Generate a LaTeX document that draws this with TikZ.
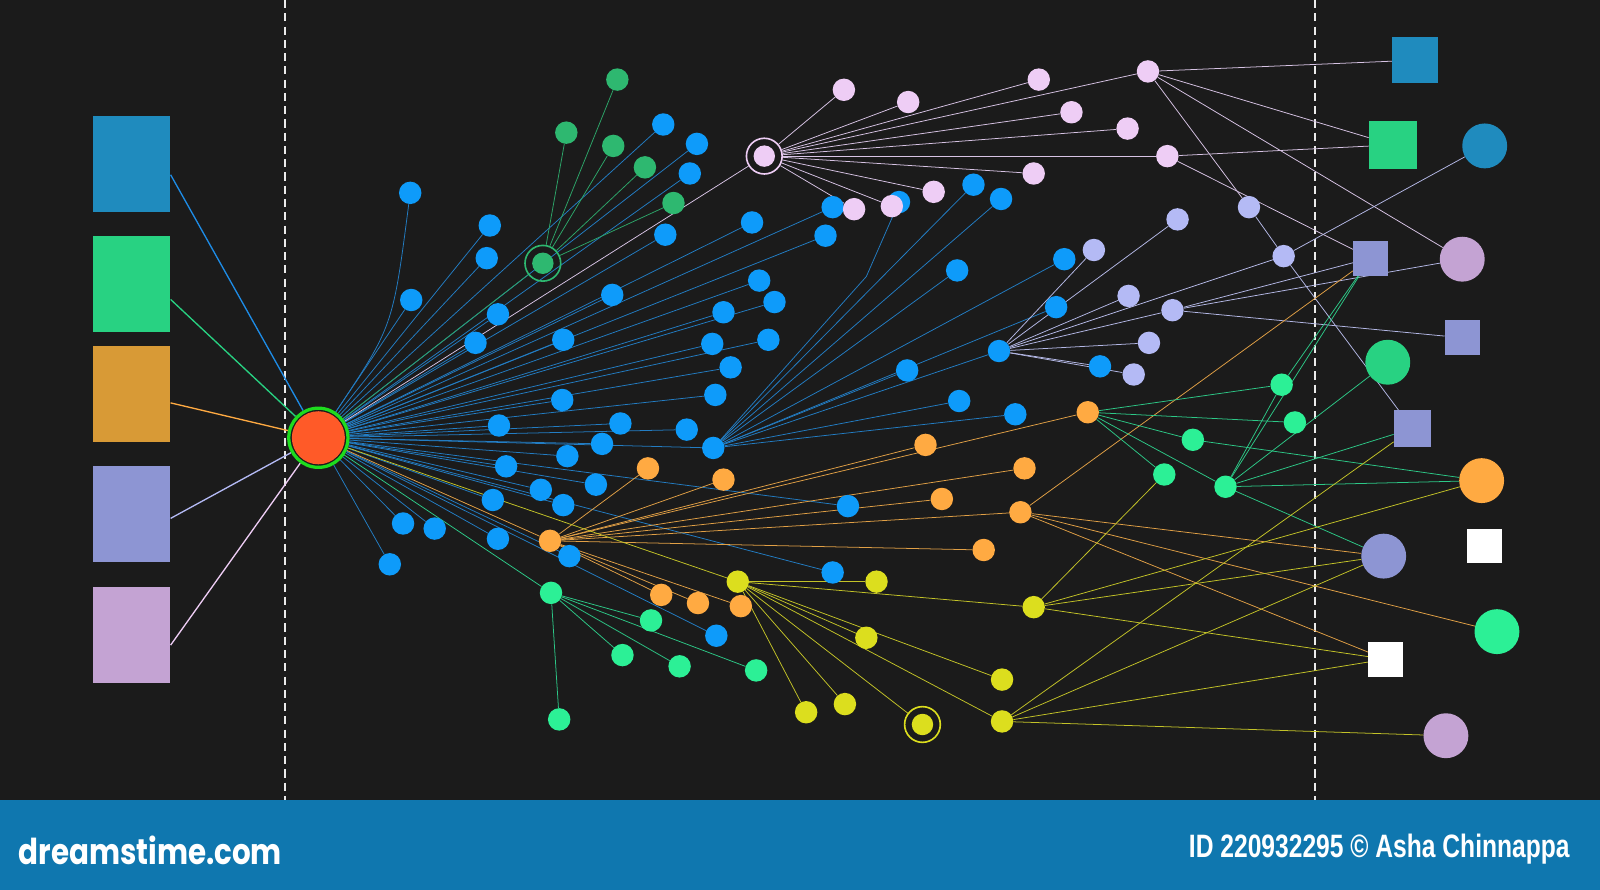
\documentclass[tikz,border=0pt]{standalone}
\usepackage{graphicx}
\usepackage{fontspec}
\newfontfamily\logofont{Poppins}
\newfontfamily\idfont{Liberation Sans}
\definecolor{night}{RGB}{27,27,27}
\definecolor{barblue}{RGB}{15,119,175}
\definecolor{nblue}{RGB}{14,155,250}
\definecolor{eblue}{RGB}{35,125,195}
\definecolor{lblue}{RGB}{30,140,230}
\definecolor{npink}{RGB}{238,205,245}
\definecolor{epink}{RGB}{215,195,228}
\definecolor{nlav}{RGB}{180,186,245}
\definecolor{elav}{RGB}{180,184,230}
\definecolor{ngreen}{RGB}{46,184,112}
\definecolor{egreen}{RGB}{45,165,105}
\definecolor{nmint}{RGB}{44,240,150}
\definecolor{emint}{RGB}{45,200,135}
\definecolor{norange}{RGB}{255,170,66}
\definecolor{eorange}{RGB}{225,160,70}
\definecolor{nyellow}{RGB}{220,222,30}
\definecolor{eyellow}{RGB}{195,195,40}
\definecolor{hubred}{RGB}{255,90,40}
\definecolor{hubring}{RGB}{30,220,30}
\definecolor{sqblue}{RGB}{31,139,190}
\definecolor{sqgreen}{RGB}{40,210,130}
\definecolor{sqorange}{RGB}{216,154,54}
\definecolor{sqpurple}{RGB}{141,149,211}
\definecolor{sqlilac}{RGB}{196,163,211}
\pgfdeclarelayer{back}
\pgfdeclarelayer{edges}
\pgfsetlayers{back,edges,main}

\begin{document}
\begin{tikzpicture}[x=1pt,y=-1pt,
    dot/.style={circle,fill=#1,minimum size=22pt,inner sep=0pt},
    ringdot/.style={circle,draw=#1,line width=1.6pt,minimum size=35pt,inner sep=0pt,
        path picture={\fill[#1] (path picture bounding box.center) circle (10.5pt);}},
    hubdot/.style={circle,draw=hubring,line width=3.2pt,minimum size=58pt,inner sep=0pt,
        path picture={\fill[hubred] (path picture bounding box.center) circle (26pt);}},
    panel/.style={fill=#1,minimum width=76pt,minimum height=94pt,inner sep=0pt},
    blob/.style={circle,fill=#1,minimum size=44pt,inner sep=0pt},
    tile/.style={fill=#1,minimum size=34pt,inner sep=0pt},
    link/.style={draw=#1,line width=0.75pt},
    feed/.style={draw=#1,line width=1.3pt},
    divider/.style={draw=white!92!black,line width=2pt,dash pattern=on 8pt off 5pt}]
    \useasboundingbox (0,0) rectangle (1568,872);
    \begin{pgfonlayer}{back}
        \fill[night] (0,0) rectangle (1568,784);
        \fill[barblue] (0,784) rectangle (1568,872);
        \draw[divider] (279,0) -- (279,784);
        \draw[divider] (1289,0) -- (1289,784);
    \end{pgfonlayer}

    \node[hubdot] (hub) at (312,429) {};
    \foreach \n/\y/\c in {sqA/161/sqblue,sqB/278/sqgreen,sqC/386/sqorange,sqD/504/sqpurple,sqE/622/sqlilac}
    {
        \node[panel=\c] (\n) at (129,\y) {};
    }
    \foreach \n/\x/\y in {b1/402/189,b2/480/221,b3/477/253,b4/403/294,b5/488/308,b6/466/336,
        b7/552/333,b8/600/289,b9/652/230,b10/737/218,b11/650/122,b12/683/141,b13/676/170,
        b14/744/275,b15/759/296,b16/709/306,b17/753/333,b18/698/337,b19/716/360,b20/701/387,
        b21/551/392,b22/489/417,b23/608/415,b24/673/421,b25/699/439,b26/590/435,b27/556/447,
        b28/496/457,b29/584/475,b30/530/480,b31/483/490,b32/552/495,b33/426/518,b34/395/513,
        b35/488/528,b36/558/545,b37/382/553,b38/702/623,b39/831/496,b40/816/561,b41/816/203,
        b42/809/231,b43/881/198,b44/954/181,b45/981/195,b46/938/265,b47/1043/254,b48/1035/301,
        b49/979/344,b50/889/363,b51/1078/359,b52/940/393,b53/995/406}
    {
        \node[dot=nblue] (\n) at (\x,\y) {};
    }
    \node[ringdot=npink] (p0) at (749,153) {};
    \foreach \n/\x/\y in {p1/827/88,p2/890/100,p3/1018/78,p4/1050/110,p5/1125/70,p6/1105/126,
        p7/1144/153,p8/1013/170,p9/915/188,p10/837/205,p11/874/202}
    {
        \node[dot=npink] (\n) at (\x,\y) {};
    }
    \foreach \n/\x/\y in {l1/1154/215,l2/1072/245,l3/1106/290,l4/1149/304,l5/1126/336,
        l6/1111/367,l7/1224/203,l8/1258/251}
    {
        \node[dot=nlav] (\n) at (\x,\y) {};
    }
    \node[ringdot=ngreen] (g0) at (532,258) {};
    \foreach \n/\x/\y in {g1/605/78,g2/555/130,g3/601/143,g4/632/164,g5/660/199}
    {
        \node[dot=ngreen] (\n) at (\x,\y) {};
    }
    \foreach \n/\x/\y in {o1/635/459,o2/709/470,o3/539/530,o4/648/583,o5/684/591,o6/726/594,
        o7/907/436,o8/1004/459,o9/923/489,o10/1000/502,o11/964/539,o12/1066/404}
    {
        \node[dot=norange] (\n) at (\x,\y) {};
    }
    \node[ringdot=nyellow] (y0) at (904,710) {};
    \foreach \n/\x/\y in {y1/723/570,y2/859/570,y3/1013/595,y4/849/625,y5/982/666,
        y6/982/707,y7/828/690,y8/790/698}
    {
        \node[dot=nyellow] (\n) at (\x,\y) {};
    }
    \foreach \n/\x/\y in {m1/540/581,m2/638/608,m3/610/642,m4/666/653,m5/741/657,m6/548/705,
        m7/1256/377,m8/1269/414,m9/1169/431,m10/1141/465,m11/1201/477}
    {
        \node[dot=nmint] (\n) at (\x,\y) {};
    }

    \node[tile=sqblue,minimum size=45pt] (rA) at (1387,59) {};
    \node[tile=sqgreen,minimum size=47pt] (rB) at (1365,142) {};
    \node[blob=sqblue] (rC) at (1455,143) {};
    \node[tile=sqpurple] (rD) at (1343,253) {};
    \node[blob=sqlilac] (rE) at (1433,254) {};
    \node[tile=sqpurple] (rF) at (1433,331) {};
    \node[blob=sqgreen] (rG) at (1360,355) {};
    \node[tile=sqpurple,minimum size=36pt] (rH) at (1384,420) {};
    \node[blob=norange] (rI) at (1452,471) {};
    \node[tile=white] (rJ) at (1455,535) {};
    \node[blob=sqpurple] (rK) at (1356,545) {};
    \node[blob=nmint] (rL) at (1467,619) {};
    \node[tile=white] (rM) at (1358,646) {};
    \node[blob=sqlilac] (rN) at (1417,721) {};

    \node[anchor=base west,inner sep=0pt,text=white] (logo) at (18,847)
        {\resizebox{258pt}{28pt}{\logofont\bfseries dreamstime.com}};
    \node[anchor=base west,inner sep=0pt,text=white] (credit) at (1165,840)
        {\resizebox{373pt}{23pt}{\idfont\bfseries ID 220932295 \textcopyright{} Asha Chinnappa}};

    \begin{pgfonlayer}{edges}
        \foreach \n/\a/\c in {sqA/-15/lblue,sqB/-22/sqgreen,sqC/-13/norange,sqD/-6/nlav,sqE/-15/npink}
        {
            \draw[feed=\c] (\n.\a) -- (hub);
        }
        \draw[link=eblue] (hub) .. controls (385,320) .. (b1);
        \foreach \i in {2,...,42}
        {
            \draw[link=eblue] (hub) -- (b\i);
        }
        \coordinate (k43) at (849,271);
        \draw[link=eblue] (b25) -- (k43) -- (b43);
        \foreach \t in {b44,b45,b46,b47,b48,b49,b50,b52,b53}
        {
            \draw[link=eblue] (b25) -- (\t);
        }
        \draw[link=epink] (hub) -- (p0);
        \foreach \i in {1,...,11}
        {
            \draw[link=epink] (p0) -- (p\i);
        }
        \foreach \t in {rA,rB,rE,l7}
        {
            \draw[link=epink] (p5) -- (\t);
        }
        \draw[link=epink] (p7) -- (rB);
        \draw[link=epink] (p7) -- (rD);
        \foreach \t in {l1,l2,l3,l4,l5,l6,l8,b51}
        {
            \draw[link=elav] (b49) -- (\t);
        }
        \foreach \t in {rD,rE,rF}
        {
            \draw[link=elav] (l4) -- (\t);
        }
        \draw[link=elav] (l7) -- (l8);
        \draw[link=elav] (l8) -- (rC);
        \draw[link=elav] (l8) -- (rH);
        \draw[link=egreen] (hub) -- (g0);
        \foreach \i in {1,...,5}
        {
            \draw[link=egreen] (g0) -- (g\i);
        }
        \draw[link=eorange] (hub) -- (o3);
        \foreach \t in {o1,o2,o4,o5,o6,o7,o8,o9,o10,o11,o12}
        {
            \draw[link=eorange] (o3) -- (\t);
        }
        \foreach \t in {rD,rK,rL,rM}
        {
            \draw[link=eorange] (o10) -- (\t);
        }
        \foreach \t in {m7,m8,m9,m10,m11}
        {
            \draw[link=emint] (o12) -- (\t);
        }
        \draw[link=emint] (hub) -- (m1);
        \foreach \i in {2,...,6}
        {
            \draw[link=emint] (m1) -- (m\i);
        }
        \foreach \t in {m7,rD,rG,rH,rI,rK}
        {
            \draw[link=emint] (m11) -- (\t);
        }
        \draw[link=emint] (m9) -- (rI);
        \draw[link=emint] (m7) -- (rD);
        \draw[link=eyellow] (hub) -- (y1);
        \foreach \t in {y0,y2,y3,y4,y5,y6,y7,y8}
        {
            \draw[link=eyellow] (y1) -- (\t);
        }
        \draw[link=eyellow] (y3) -- (m10);
        \foreach \t in {rI,rK,rM}
        {
            \draw[link=eyellow] (y3) -- (\t);
        }
        \foreach \t in {rH,rK,rM,rN}
        {
            \draw[link=eyellow] (y6) -- (\t);
        }
    \end{pgfonlayer}
\end{tikzpicture}
\end{document}
